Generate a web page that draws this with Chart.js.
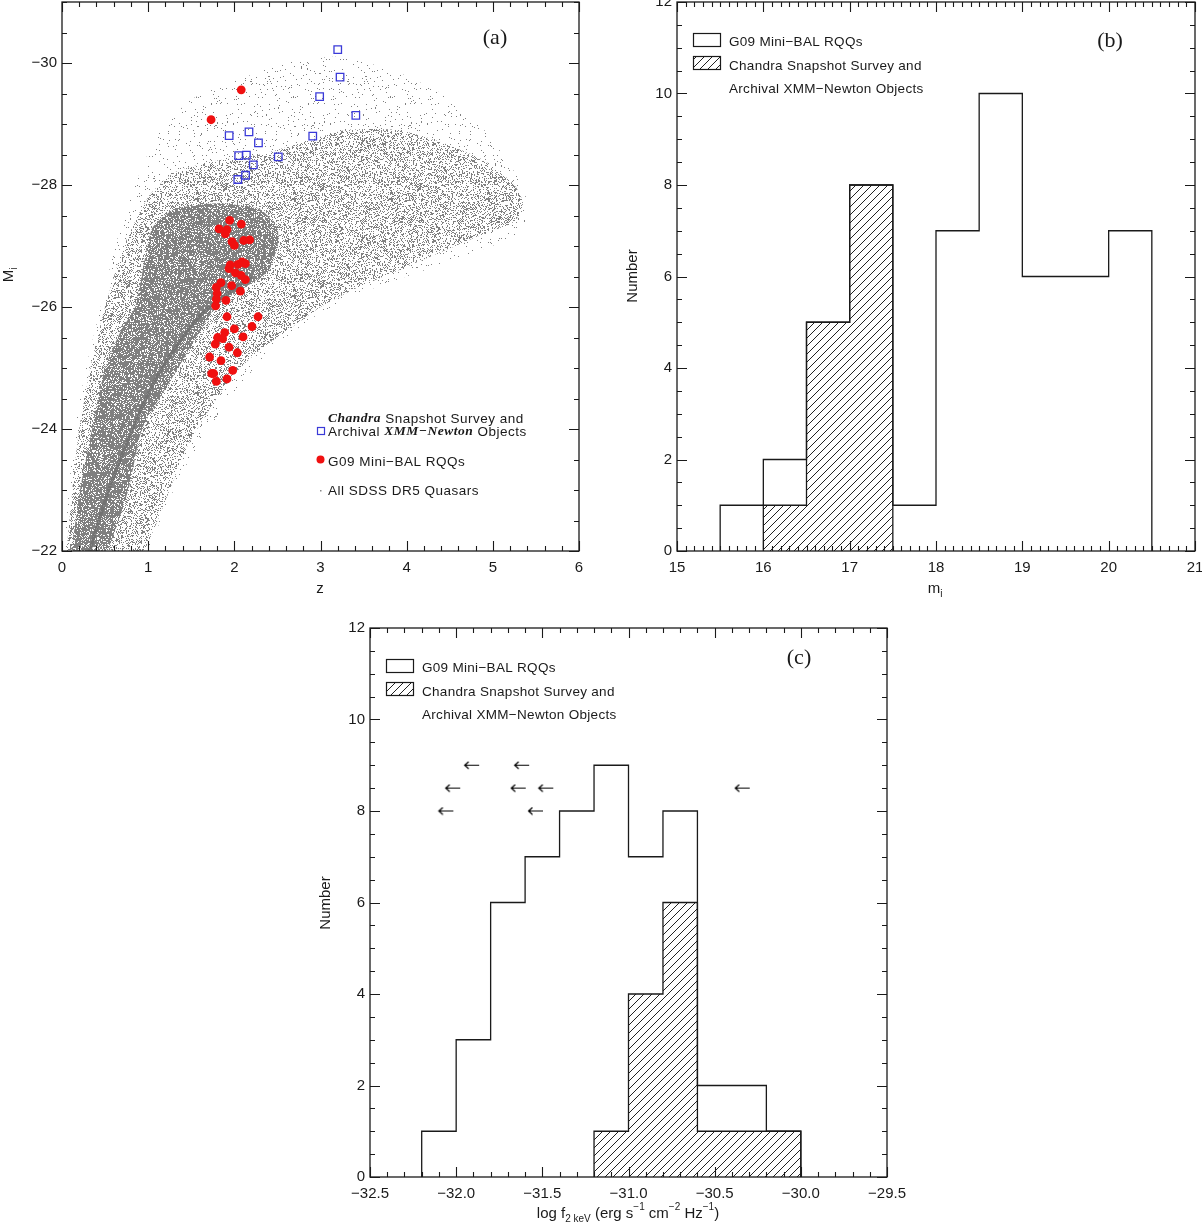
<!DOCTYPE html>
<html><head><meta charset="utf-8">
<script src="https://cdn.jsdelivr.net/npm/chart.js@4.4.1/dist/chart.umd.min.js"></script>
<style>
html,body{margin:0;padding:0;background:#fff;width:1202px;height:1224px;overflow:hidden}
canvas{position:absolute}
#ca{left:0;top:0}
#cb{left:601px;top:0}
#cc{left:300px;top:610px}
</style></head><body>
<canvas id="ca" width="600" height="600"></canvas>
<canvas id="cb" width="601" height="600"></canvas>
<canvas id="cc" width="620" height="614"></canvas>
<script>
// ---------------- DATA ----------------
// Panel (a): z vs M_i
const aXTicks = [0, 1, 2, 3, 4, 5, 6];
const aYTicks = [-30, -28, -26, -24, -22];
const redZ = [2.08,1.73,1.946,2.081,1.822,1.915,1.895,1.973,2.00,2.109,2.178,2.089,2.128,2.043,1.953,1.938,2.012,2.078,2.128,1.845,1.969,1.791,2.07,1.80,1.791,1.903,1.783,1.915,2.275,2.205,2.0,1.888,1.806,1.864,2.101,1.779,1.938,2.035,1.713,1.845,1.981,1.737,1.76,1.915,1.791];
const redM = [-29.56,-29.07,-27.42,-27.36,-27.28,-27.27,-27.20,-27.07,-27.01,-27.09,-27.10,-26.74,-26.71,-26.70,-26.69,-26.63,-26.56,-26.52,-26.45,-26.40,-26.35,-26.32,-26.26,-26.22,-26.13,-26.11,-26.02,-25.84,-25.84,-25.68,-25.64,-25.58,-25.50,-25.48,-25.51,-25.39,-25.34,-25.25,-25.18,-25.12,-24.96,-24.91,-24.91,-24.82,-24.78];
const blueZ = [3.20,3.227,2.99,3.41,1.94,2.17,2.28,2.91,2.05,2.14,2.51,2.22,2.13,2.04];
const blueM = [-30.22,-29.77,-29.45,-29.14,-28.81,-28.87,-28.69,-28.80,-28.48,-28.49,-28.46,-28.33,-28.16,-28.09];
// SDSS DR5 cloud, outlines of density levels
const sparseZ = [0.02,0.08,0.15,0.28,0.45,0.62,0.85,1.1,1.5,2.0,2.6,3.2,3.8,4.4,4.9,5.3,5.42,5.3,4.8,4.2,3.6,3.0,2.6,2.3,2.0,1.7,1.4,1.2,1.0,0.9,0.02];
const sparseM = [-21.8,-23.0,-24.0,-25.0,-26.0,-27.0,-28.0,-28.8,-29.4,-29.7,-30.0,-30.1,-29.9,-29.5,-28.9,-28.1,-27.6,-27.2,-26.9,-26.6,-26.3,-25.9,-25.5,-25.1,-24.6,-24.0,-23.3,-22.7,-22.0,-21.8,-21.8];
const medZ = [0.04,0.12,0.2,0.33,0.5,0.72,1.0,1.3,1.8,2.3,2.8,3.3,3.9,4.4,4.9,5.25,5.35,5.25,4.9,4.4,3.9,3.4,3.0,2.6,2.3,2.0,1.7,1.45,1.25,1.05,0.85,0.04];
const medM = [-21.8,-23.0,-24.0,-25.0,-26.0,-27.0,-27.8,-28.2,-28.4,-28.5,-28.7,-28.9,-28.9,-28.7,-28.4,-28.0,-27.7,-27.4,-27.2,-26.9,-26.6,-26.3,-26.0,-25.6,-25.3,-24.9,-24.3,-23.7,-23.0,-22.3,-21.8,-21.8];
const denseZ = [0.09,0.21,0.35,0.5,0.68,0.85,0.95,1.05,1.3,1.8,2.3,2.5,2.5,2.4,2.1,1.78,1.35,0.93,0.77,0.45,0.09];
const denseM = [-21.8,-23.0,-24.0,-25.0,-25.6,-26.0,-26.7,-27.3,-27.6,-27.7,-27.6,-27.3,-27.0,-26.6,-26.3,-26.0,-25.0,-24.0,-23.0,-21.8,-21.8];
const stripeZ = [0.28,0.45,0.62,0.85,1.08,1.35,1.63,1.9,2.2];
const stripeM = [-21.8,-22.6,-23.3,-24.1,-24.8,-25.4,-25.9,-26.2,-26.5];

// Panel (b): m_i histograms
const bXTicks = [15, 16, 17, 18, 19, 20, 21];
const bYTicks = [0, 2, 4, 6, 8, 10, 12];
const bEdges = [15.5, 16.0, 16.5, 17.0, 17.5, 18.0, 18.5, 19.0, 19.5, 20.0, 20.5];
const bG09 = [1, 2, 5, 8, 1, 7, 10, 6, 6, 7];
const bXEdges = [16.0, 16.5, 17.0, 17.5];
const bXray = [1, 5, 8];

// Panel (c): log f_2keV histograms
const cXTicks = [-32.5, -32.0, -31.5, -31.0, -30.5, -30.0, -29.5];
const cYTicks = [0, 2, 4, 6, 8, 10, 12];
const cEdges = [-32.2, -32.0, -31.8, -31.6, -31.4, -31.2, -31.0, -30.8, -30.6, -30.4, -30.2, -30.0];
const cG09 = [1, 3, 6, 7, 8, 9, 7, 8, 2, 2, 1];
const cXEdges = [-31.2, -31.0, -30.8, -30.6, -30.4, -30.2, -30.0];
const cXray = [1, 4, 6, 1, 1, 1];
const arrowX = [-31.91, -31.62, -32.02, -31.64, -31.48, -30.34, -32.06, -31.54];
const arrowY = [9, 9, 8.5, 8.5, 8.5, 8.5, 8, 8];

// ---------------- HELPERS ----------------
const FONT = '"Liberation Sans", Arial, sans-serif';
const SERIF = '"Liberation Serif", "Times New Roman", serif';
const INK = '#1a1a1a';
const pts = (xs, ys) => xs.map((x, i) => ({x, y: ys[i]}));
function stepPts(edges, counts) {
  const p = [{x: edges[0], y: 0}];
  counts.forEach((c, i) => p.push({x: edges[i], y: c}));
  p.push({x: edges[edges.length - 1], y: 0});
  return p;
}
const fmtMinus = (v, d) => { const s = Math.abs(v).toFixed(d); return v < 0 ? '\u2212' + s : s; };

function hatchPattern() {
  const c = document.createElement('canvas'); c.width = 8; c.height = 8;
  const g = c.getContext('2d');
  g.strokeStyle = '#222'; g.lineWidth = 1;
  g.beginPath();
  g.moveTo(-1, 9); g.lineTo(9, -1);
  g.moveTo(-1, 1); g.lineTo(1, -1);
  g.moveTo(7, 9); g.lineTo(9, 7);
  g.stroke();
  return g.createPattern(c, 'repeat');
}
const HATCH = hatchPattern();
// speckle texture (a fill style only): fixed integer-hash tile
function tileHash(i, j) {
  let h = (Math.imul(i, 374761393) + Math.imul(j, 668265263)) >>> 0;
  h = Math.imul(h ^ (h >>> 13), 1274126177) >>> 0;
  h = (h ^ (h >>> 16)) >>> 0;
  return h / 4294967296;
}
function speckle(p, color) {
  const N = 97;
  const c = document.createElement('canvas'); c.width = N; c.height = N;
  const g = c.getContext('2d'); g.fillStyle = color;
  for (let i = 0; i < N; i++) for (let j = 0; j < N; j++) {
    if (tileHash(i, j) < p) g.fillRect(i, j, 1, 1);
  }
  return g.createPattern(c, 'repeat');
}
function arrowImg() {
  const c = document.createElement('canvas'); c.width = 17; c.height = 9;
  const g = c.getContext('2d');
  g.strokeStyle = '#000'; g.lineWidth = 1.2;
  g.beginPath();
  g.moveTo(1.5, 4.5); g.lineTo(16, 4.5);
  g.moveTo(5.5, 1); g.lineTo(1.5, 4.5); g.lineTo(5.5, 8);
  g.stroke();
  return c;
}

function rich(ctx, parts, x, y, opt = {}) {
  const size = opt.size || 14;
  ctx.save();
  ctx.translate(x, y);
  if (opt.rot) ctx.rotate(opt.rot);
  if (opt.ls) ctx.letterSpacing = opt.ls;
  let w = 0;
  const fonts = parts.map(p => {
    const s = p[1] ? Math.round(size * 0.68) : size;
    const f = p[2] ? p[2].replace('SZ', s + 'px') : s + 'px ' + FONT;
    ctx.font = f; const pw = ctx.measureText(p[0]).width; w += pw; return [f, pw];
  });
  let cx = opt.align === 'center' ? -w / 2 : 0;
  ctx.textBaseline = 'middle'; ctx.textAlign = 'left'; ctx.fillStyle = INK;
  parts.forEach((p, i) => {
    ctx.font = fonts[i][0];
    const dy = p[1] === 1 ? size * 0.35 : p[1] === 2 ? -size * 0.42 : 0;
    ctx.fillText(p[0], cx, dy);
    cx += fonts[i][1];
  });
  ctx.restore();
}

// frame + inward ticks on four sides, and annotations
const framePlugin = {
  id: 'frameTicks',
  afterDatasetsDraw(chart, args, o) {
    const {ctx, chartArea: a, scales: {x, y}} = chart;
    ctx.save();
    ctx.strokeStyle = INK; ctx.lineWidth = 1.3;
    ctx.strokeRect(a.left, a.top, a.right - a.left, a.bottom - a.top);
    ctx.lineWidth = 1.1;
    const run = (min, max, step, cb) => { const n = Math.round((max - min) / step); for (let i = 0; i <= n; i++) cb(min + i * step); };
    ctx.beginPath();
    const xt = (v, len) => { const px = Math.round(x.getPixelForValue(v)) + 0.5; ctx.moveTo(px, a.bottom); ctx.lineTo(px, a.bottom - len); ctx.moveTo(px, a.top); ctx.lineTo(px, a.top + len); };
    const yt = (v, len) => { const py = Math.round(y.getPixelForValue(v)) + 0.5; ctx.moveTo(a.left, py); ctx.lineTo(a.left + len, py); ctx.moveTo(a.right, py); ctx.lineTo(a.right - len, py); };
    run(x.min, x.max, o.xMinor, v => xt(v, 5));
    run(Math.min(y.min, y.max), Math.max(y.min, y.max), o.yMinor, v => yt(v, 5));
    o.xMajor.forEach(v => xt(v, 10));
    o.yMajor.forEach(v => yt(v, 10));
    ctx.stroke();
    ctx.restore();
    if (o.draw) o.draw(ctx, chart);
  }
};

const zeroPad = s => { s.paddingLeft = 0; s.paddingRight = 0; s.paddingTop = 0; s.paddingBottom = 0; };
function baseOpts(cfg) {
  return {
    responsive: false, animation: false, devicePixelRatio: 1, events: [],
    layout: {autoPadding: false, padding: cfg.pad},
    plugins: {legend: {display: false}, tooltip: {enabled: false}, frameTicks: cfg.frame},
    scales: {
      x: {type: 'linear', min: cfg.xmin, max: cfg.xmax,
          grid: {display: false, drawTicks: false}, border: {display: false},
          afterFit: s => { s.height = cfg.xh; zeroPad(s); },
          afterBuildTicks: s => { s.ticks = cfg.xticks.map(v => ({value: v})); },
          ticks: {padding: 8, color: INK, font: {family: FONT, size: 15}, maxRotation: 0, autoSkip: false,
                  callback: v => fmtMinus(v, cfg.xdec)}},
      y: {type: 'linear', min: cfg.ymin, max: cfg.ymax, reverse: !!cfg.yrev,
          grid: {display: false, drawTicks: false}, border: {display: false},
          afterFit: s => { s.width = cfg.yw; zeroPad(s); },
          afterBuildTicks: s => { s.ticks = cfg.yticks.map(v => ({value: v})); },
          ticks: {padding: 5, color: INK, font: {family: FONT, size: 15}, autoSkip: false,
                  callback: v => fmtMinus(v, 0)}}
    }
  };
}

const boldItal = 'bold italic SZ ' + SERIF;
const DOT = '#808080';

// ---------------- PANEL (a) ----------------
const optA = baseOpts({
  pad: {left: 0, right: 21, top: 2, bottom: 0}, xh: 49, yw: 62,
  xmin: 0, xmax: 6, ymin: -31, ymax: -22, yrev: true, xticks: aXTicks, yticks: aYTicks, xdec: 0,
  frame: {xMajor: aXTicks, yMajor: aYTicks, xMinor: 0.2, yMinor: 0.5, draw: (ctx) => {
    rich(ctx, [['z']], 320, 589, {align: 'center', size: 15});
    rich(ctx, [['M'], ['i', 1]], 9, 275, {align: 'center', size: 15, rot: -Math.PI / 2});
    rich(ctx, [['(a)', 0, 'SZ ' + SERIF]], 495, 38, {align: 'center', size: 22});
    // legend
    ctx.save();
    ctx.strokeStyle = '#3a3ad8'; ctx.lineWidth = 1.2;
    ctx.strokeRect(317.5, 427.5, 7, 7);
    ctx.fillStyle = '#f01010'; ctx.beginPath(); ctx.arc(320.5, 459.5, 4, 0, Math.PI * 2); ctx.fill();
    ctx.fillStyle = '#888'; ctx.fillRect(320, 490, 1.5, 1.5);
    ctx.restore();
    const L = {size: 13.5, ls: '0.5px'};
    rich(ctx, [['Chandra', 0, boldItal], [' Snapshot Survey and']], 328, 419, L);
    rich(ctx, [['Archival '], ['XMM\u2212Newton', 0, boldItal], [' Objects']], 328, 432, L);
    rich(ctx, [['G09 Mini\u2212BAL RQQs']], 328, 462, L);
    rich(ctx, [['All SDSS DR5 Quasars']], 328, 491, L);
  }}
});
new Chart(document.getElementById('ca'), {
  type: 'scatter',
  data: {datasets: [
    {data: pts(blueZ, blueM), pointStyle: 'rect', pointRadius: 5.3, backgroundColor: 'rgba(0,0,0,0)', borderColor: '#3a3ad8', borderWidth: 1.3},
    {data: pts(redZ, redM), pointStyle: 'circle', pointRadius: 4.4, backgroundColor: '#f01010', borderWidth: 0},
    {type: 'line', data: pts(stripeZ, stripeM), borderColor: 'rgba(112,112,112,0.85)', borderWidth: 3.5, pointRadius: 0, fill: false, tension: 0.3},
    {type: 'line', data: pts(denseZ, denseM), fill: 'shape', backgroundColor: speckle(0.78, DOT), borderWidth: 0, pointRadius: 0, tension: 0.2},
    {type: 'line', data: pts(medZ, medM), fill: 'shape', backgroundColor: speckle(0.3, DOT), borderWidth: 0, pointRadius: 0, tension: 0.2},
    {type: 'line', data: pts(sparseZ, sparseM), fill: 'shape', backgroundColor: speckle(0.035, DOT), borderWidth: 0, pointRadius: 0, tension: 0.2}
  ]},
  options: optA,
  plugins: [framePlugin]
});

// ---------------- PANEL (b) ----------------
function legendHist(ctx, x0, yTop) {
  ctx.save();
  ctx.strokeStyle = INK; ctx.lineWidth = 1.2;
  ctx.strokeRect(x0 + 0.5, yTop + 0.5, 27, 13);
  ctx.fillStyle = HATCH; ctx.fillRect(x0 + 0.5, yTop + 23.5, 27, 13);
  ctx.strokeRect(x0 + 0.5, yTop + 23.5, 27, 13);
  ctx.restore();
  const L = {size: 13.5, ls: '0.3px'};
  rich(ctx, [['G09 Mini\u2212BAL RQQs']], x0 + 36, yTop + 9.5, L);
  rich(ctx, [['Chandra Snapshot Survey and']], x0 + 36, yTop + 33, L);
  rich(ctx, [['Archival XMM\u2212Newton Objects']], x0 + 36, yTop + 56, L);
}
const optB = baseOpts({
  pad: {left: 0, right: 7, top: 2, bottom: 0}, xh: 49, yw: 76,
  xmin: 15, xmax: 21, ymin: 0, ymax: 12, xticks: bXTicks, yticks: bYTicks, xdec: 0,
  frame: {xMajor: bXTicks, yMajor: bYTicks, xMinor: 0.1, yMinor: 0.5, draw: (ctx) => {
    rich(ctx, [['m'], ['i', 1]], 334, 589, {align: 'center', size: 15});
    rich(ctx, [['Number']], 32, 276, {align: 'center', size: 15, rot: -Math.PI / 2});
    rich(ctx, [['(b)', 0, 'SZ ' + SERIF]], 509, 41, {align: 'center', size: 22});
    legendHist(ctx, 92, 33);
  }}
});
new Chart(document.getElementById('cb'), {
  type: 'scatter',
  data: {datasets: [
    {type: 'line', data: stepPts(bEdges, bG09), stepped: 'before', borderColor: INK, borderWidth: 1.3, pointRadius: 0, fill: false},
    {type: 'line', data: stepPts(bXEdges, bXray), stepped: 'before', borderColor: INK, borderWidth: 1.3, pointRadius: 0, fill: 'origin', backgroundColor: HATCH}
  ]},
  options: optB,
  plugins: [framePlugin]
});

// ---------------- PANEL (c) ----------------
const optC = baseOpts({
  pad: {left: 0, right: 33, top: 18, bottom: 0}, xh: 47, yw: 70,
  xmin: -32.5, xmax: -29.5, ymin: 0, ymax: 12, xticks: cXTicks, yticks: cYTicks, xdec: 1,
  frame: {xMajor: cXTicks, yMajor: cYTicks, xMinor: 0.1, yMinor: 0.5, draw: (ctx) => {
    rich(ctx, [['log f'], ['2 keV', 1], [' (erg s'], ['\u22121', 2], [' cm'], ['\u22122', 2], [' Hz'], ['\u22121', 2], [')']], 328, 604, {align: 'center', size: 15});
    rich(ctx, [['Number']], 26, 293, {align: 'center', size: 15, rot: -Math.PI / 2});
    rich(ctx, [['(c)', 0, 'SZ ' + SERIF]], 499, 48, {align: 'center', size: 22});
    legendHist(ctx, 86, 49);
  }}
});
new Chart(document.getElementById('cc'), {
  type: 'scatter',
  data: {datasets: [
    {data: pts(arrowX, arrowY), pointStyle: arrowImg(), pointRadius: 8},
    {type: 'line', data: stepPts(cEdges, cG09), stepped: 'before', borderColor: INK, borderWidth: 1.3, pointRadius: 0, fill: false},
    {type: 'line', data: stepPts(cXEdges, cXray), stepped: 'before', borderColor: INK, borderWidth: 1.3, pointRadius: 0, fill: 'origin', backgroundColor: HATCH}
  ]},
  options: optC,
  plugins: [framePlugin]
});
</script>
</body></html>
